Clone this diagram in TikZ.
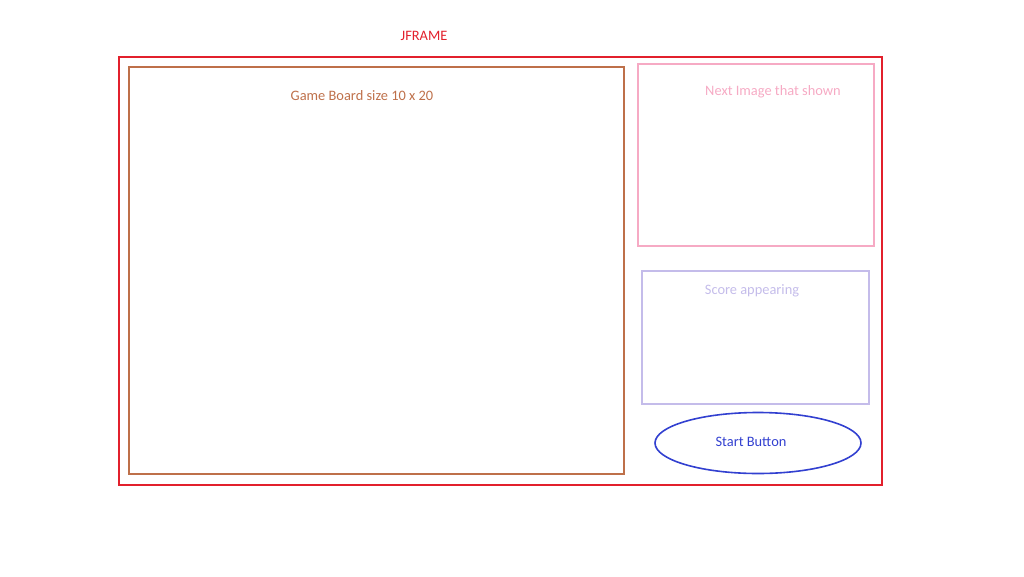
\documentclass[tikz,border=0pt]{standalone}
\usepackage{fontspec}
\setmainfont{Carlito}
\usepackage{tikz}
\usetikzlibrary{shapes.geometric}
\definecolor{framered}{RGB}{226,32,44}
\definecolor{boardbrown}{RGB}{190,112,74}
\definecolor{nextpink}{RGB}{246,170,196}
\definecolor{scorelav}{RGB}{196,188,234}
\definecolor{startblue}{RGB}{50,64,208}
\tikzset{lbl/.style={font=\fontsize{14.4}{16}\selectfont, inner sep=0pt}}

\begin{document}
\begin{tikzpicture}[x=1pt, y=-1pt]
\useasboundingbox (0, 0) rectangle (1024, 576);
\node[lbl, text=framered] (jframe) at (424, 36) {JFRAME};
\draw[framered, line width=1.6pt] (119, 57) rectangle (882, 485);
\draw[boardbrown, line width=1.6pt] (129, 67) rectangle (624, 474);
\node[lbl, text=boardbrown] (board) at (362, 96) {Game Board size 10 x 20};
\draw[nextpink, line width=1.6pt] (638, 64) rectangle (874, 246);
\node[lbl, text=nextpink] (next) at (773, 92) {Next Image that shown};
\draw[scorelav, line width=1.6pt] (642, 271) rectangle (869, 404);
\node[lbl, text=scorelav] (score) at (752, 291) {Score appearing};
\node[ellipse, draw=startblue, line width=1.6pt, minimum width=206pt, minimum height=61pt, inner sep=0pt] (start) at (758, 443) {};
\node[lbl, text=startblue] (startlbl) at (751, 442) {Start Button};
\end{tikzpicture}
\end{document}
